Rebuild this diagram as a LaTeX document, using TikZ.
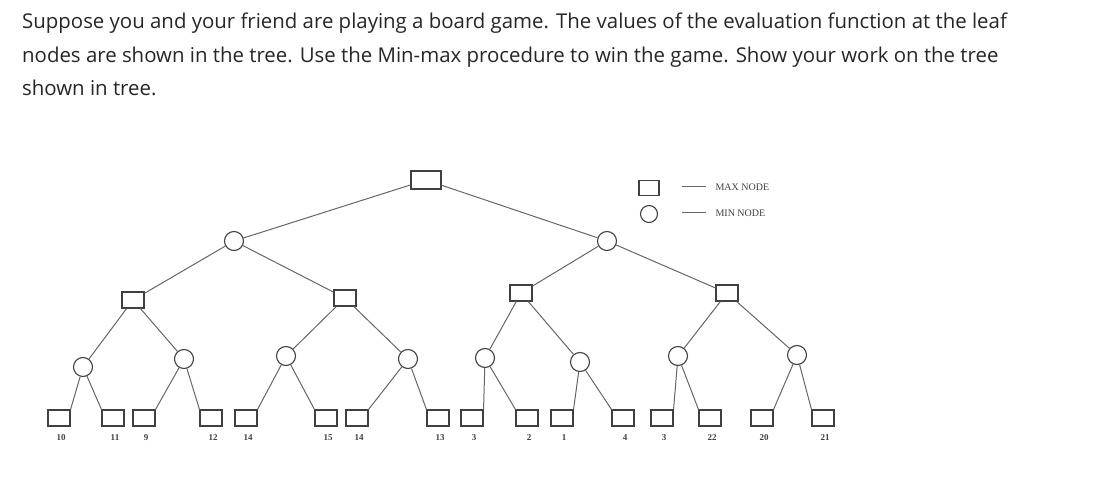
\documentclass[tikz,border=0pt]{standalone}
\usepackage{fontspec}
\setmainfont{Open Sans}
\newfontfamily\serifl{Liberation Serif}
\begin{document}
\begin{tikzpicture}[x=1pt,y=-1pt,
 mx/.style={draw=black!75,line width=1.1pt,minimum width=22pt,minimum height=16pt,inner sep=0pt,fill=white},
 mn/.style={draw=black!75,line width=1.1pt,circle,minimum size=19pt,inner sep=0pt,fill=white},
 lv/.style={font=\serifl\fontsize{9}{10}\selectfont\bfseries,text=black!75},
 ed/.style={draw=black!60,line width=1pt},
 tx/.style={anchor=base west,inner sep=0pt,font=\fontsize{20.4}{24}\selectfont,text=black!85}]
\useasboundingbox (0,0) rectangle (1095,478);
\node[tx] (t1) at (22,29) {Suppose you and your friend are playing a board game. The values of the evaluation function at the leaf};
\node[tx] (t2) at (22,63) {nodes are shown in the tree. Use the Min-max procedure to win the game. Show your work on the tree};
\node[tx] (t3) at (22,96) {shown in tree.};
\node[mx,minimum width=30pt,minimum height=18pt] (r) at (426,180) {};
\node[mn] (a1) at (234,241) {};
\node[mn] (a2) at (607,241) {};
\foreach \n/\x/\y in {b1/133/300,b2/345/298,b3/521/293,b4/727/293}{\node[mx] (\n) at (\x,\y) {};}
\foreach \n/\x/\y in {c1/83/367,c2/184/359,c3/286/356,c4/408/359,c5/485/358,c6/580/362,c7/678/356,c8/797/355}{\node[mn] (\n) at (\x,\y) {};}
\foreach \i/\x/\v in {1/59/10,2/113/11,3/144/9,4/211/12,5/246/14,6/326/15,7/357/14,8/438/13,9/472/3,10/527/2,11/562/1,12/623/4,13/662/3,14/710/22,15/762/20,16/823/21}{
 \node[mx] (l\i) at (\x,418) {};
 \node[lv] (v\i) at (\x+2,438) {\v};}
\draw[ed] (r)--(a1) (r)--(a2) (a1)--(b1) (a1)--(b2) (a2)--(b3) (a2)--(b4)
 (b1)--(c1) (b1)--(c2) (b2)--(c3) (b2)--(c4) (b3)--(c5) (b3)--(c6) (b4)--(c7) (b4)--(c8);
\foreach \c/\a/\b in {c1/l1/l2,c2/l3/l4,c3/l5/l6,c4/l7/l8,c5/l9/l10,c6/l11/l12,c7/l13/l14,c8/l15/l16}{
 \draw[ed] (\c)--(\a.north east) (\c)--(\b.north west);}
\node[mx,minimum width=20pt,minimum height=15pt] (lg1) at (649,188) {};
\node[mn,minimum size=17pt] (lg2) at (649,214) {};
\coordinate (p1) at (682,187); \coordinate (q1) at (706,187);
\coordinate (p2) at (682,213); \coordinate (q2) at (706,213);
\draw[ed] (p1)--(q1) (p2)--(q2);
\node[lv,anchor=west,font=\serifl\fontsize{10}{11}\selectfont] (m1) at (712,187) {MAX NODE};
\node[lv,anchor=west,font=\serifl\fontsize{10}{11}\selectfont] (m2) at (712,213) {MIN NODE};
\end{tikzpicture}
\end{document}
